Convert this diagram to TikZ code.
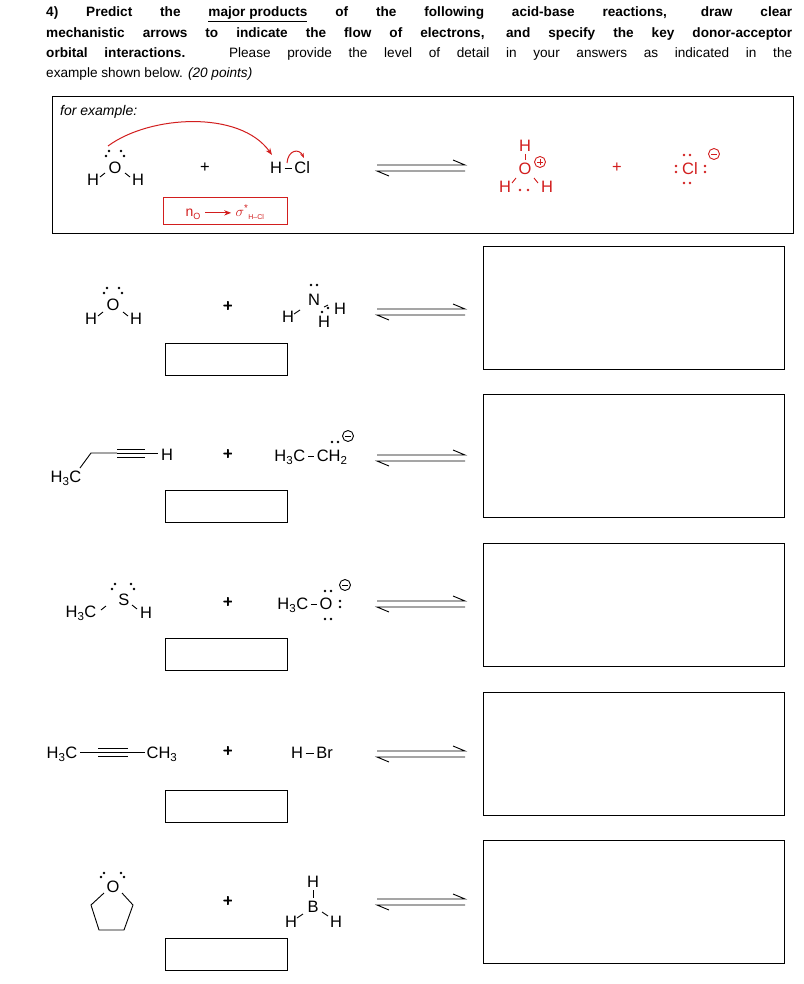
\documentclass[tikz,border=0pt]{standalone}
\usepackage{fontspec}
\setmainfont{Liberation Sans}
\usetikzlibrary{arrows.meta}
\definecolor{rd}{RGB}{210,30,30}
\tikzset{
  atm/.style={inner sep=0pt,font=\fontsize{16.5}{17}\selectfont},
  bx/.style={draw,line width=0.9pt},
  bd/.style={line width=0.9pt},
  head/.style={inner sep=0pt,anchor=west,font=\fontsize{13.6}{15}\selectfont}
}
\newcommand{\dt}[2]{\fill (#1,#2) circle (1.3pt);}
\newcommand{\eqarr}[2]{%
  \draw[line width=0.9pt] (#1,#2-3) -- (#1+88,#2-3) -- (#1+76,#2-8);
  \draw[line width=0.9pt] (#1+88,#2+3) -- (#1,#2+3) -- (#1+12,#2+8);}
\begin{document}
\begin{tikzpicture}[x=1pt,y=-1pt]
\useasboundingbox[fill=white] (0,0) rectangle (803,984);
% heading
\node[head] (h1) at (46,14) {\makebox[746pt][s]{\textbf{4) Predict the \underline{major products} of the following acid-base reactions, draw clear}}};
\node[head] (h2) at (46,34) {\makebox[746pt][s]{\textbf{mechanistic arrows to indicate the flow of electrons, and specify the key donor-acceptor}}};
\node[head] (h3) at (46,54) {\makebox[746pt][s]{\textbf{orbital interactions.} Please provide the level of detail in your answers as indicated in the}};
\node[head] (h4) at (46,74) {example shown below. \textit{(20 points)}};
% example box
\draw[bx] (52,96) rectangle (793,233);
\node[head,font=\fontsize{14}{15}\selectfont\itshape] (fe) at (60,112) {for example:};
% water
\node[atm] (eo) at (115,168) {O};
\node[atm] (eh1) at (93,180) {H};
\node[atm] (eh2) at (138,180) {H};
\draw[bd] (100,177)--(105,173); \draw[bd] (125,173)--(130,177);
\dt{106}{156}\dt{109}{151}\dt{121}{151}\dt{124}{156}
\node[atm] (ep) at (205,168) {+};
\node[atm] (ehcl) at (290,168) {H\,\rule[0.28em]{7pt}{1.1pt}\,Cl};
\draw[rd,line width=1pt,-{Stealth[length=7pt]}] (108,146) .. controls (150,115) and (240,110) .. (272,155);
\draw[rd,line width=1pt,-{Stealth[length=5pt]}] (287,163) .. controls (288,150) and (299,148) .. (304,158);
\draw[rd,line width=1pt] (163,198) rectangle (287,225);
\node[atm,rd,font=\fontsize{14}{15}\selectfont] (eno) at (225,212) {n\textsubscript{\small O} \tikz[baseline=-4pt]\draw[line width=1pt,-{Stealth[length=7pt]}] (0,0)--(26pt,0); $\sigma$\textsuperscript{*}\textsubscript{\scriptsize H--Cl}};
\eqarr{377}{168}
% H3O+
\begin{scope}[rd]
\node[atm] (po) at (525,169) {O};
\node[atm] (poh) at (525,146) {H};
\node[atm] (ph1) at (505,187) {H};
\node[atm] (ph2) at (547,187) {H};
\draw[bd] (525,154)--(525,160); \draw[bd] (512,183)--(516,178); \draw[bd] (534,178)--(538,183);
\dt{520}{190}\dt{528}{190}
\draw[line width=0.9pt] (540,162) circle (5.5pt); \draw[line width=0.9pt] (537,162)--(543,162) (540,159)--(540,165);
\node[atm] (pp) at (617,168) {+};
\node[atm] (pcl) at (690,169) {Cl};
\dt{684}{155}\dt{690}{155}\dt{684}{183}\dt{690}{183}
\dt{676}{166}\dt{676}{172}\dt{705}{166}\dt{705}{172}
\draw[line width=0.9pt] (714,154) circle (5.5pt); \draw[line width=0.9pt] (711,154)--(717,154);
\end{scope}
% answer boxes
\foreach \y in {246,394,543,692,840} \draw[bx] (483,\y) rectangle (784,\y+123);
\foreach \y in {343,490,638,790,938} \draw[bx] (165,\y) rectangle (287,\y+32);
\foreach \y in {312,458,604,754,902} \eqarr{377}{\y}
\foreach \y in {307,455,603,752,902} \node[atm] at (228,\y) {+};
% row 1
\node[atm] (r1o) at (113,305) {O}; \node[atm] (r1h1) at (91,319) {H}; \node[atm] (r1h2) at (136,319) {H};
\draw[bd] (98,316)--(103,312); \draw[bd] (123,312)--(128,316);
\dt{104}{293}\dt{107}{288}\dt{119}{288}\dt{122}{293}
\node[atm] (r1n) at (314,300) {N}; \node[atm] (r1ha) at (288,317) {H}; \node[atm] (r1hb) at (340,309) {H}; \node[atm] (r1hc) at (324,322) {H};
\dt{311}{285}\dt{317}{285}
\draw[bd] (294,314)--(300,310); \draw[bd] (324,307)--(328,305); \dt{328}{308}\dt{322}{312}
% row 2
\node[atm] (r2c) at (66,478) {H\textsubscript{3}C};
\draw[bd] (80,468)--(91,453)--(117,453);
\draw[bd] (117,449)--(145,449) (117,453)--(145,453) (117,457)--(145,457);
\draw[bd] (145,453)--(158,453);
\node[atm] (r2h) at (167,455) {H};
\node[atm] (r2b) at (311,457) {H\textsubscript{3}C\,\rule[0.28em]{6pt}{0.9pt}\,CH\textsubscript{2}};
\dt{332}{442}\dt{338}{442}
\draw[line width=0.9pt] (348,436) circle (5.5pt); \draw[line width=0.9pt] (345,436)--(351,436);
% row 3
\node[atm] (r3c) at (81,613) {H\textsubscript{3}C}; \node[atm] (r3s) at (124,600) {S}; \node[atm] (r3h) at (146,613) {H};
\draw[bd] (101,610)--(106,606); \draw[bd] (132,605)--(137,609);
\dt{112}{589}\dt{115}{584}\dt{131}{584}\dt{134}{589}
\node[atm] (r3b) at (305,605) {H\textsubscript{3}C\,\rule[0.28em]{6pt}{0.9pt}\,O};
\dt{325}{591}\dt{331}{591}\dt{325}{619}\dt{331}{619}\dt{340}{601}\dt{340}{607}
\draw[line width=0.9pt] (345,585) circle (5.5pt); \draw[line width=0.9pt] (342,585)--(348,585);
% row 4
\node[atm] (r4a) at (62,754) {H\textsubscript{3}C};
\draw[bd] (80,752)--(98,752); \draw[bd] (98,748)--(128,748) (98,752)--(128,752) (98,756)--(128,756); \draw[bd] (128,752)--(145,752);
\node[atm] (r4b) at (162,754) {CH\textsubscript{3}};
\node[atm] (r4c) at (312,753) {H\,\rule[0.28em]{8pt}{0.9pt}\,Br};
% row 5
\node[atm] (r5o) at (113,887) {O};
\dt{101}{877}\dt{104}{873}\dt{121}{873}\dt{124}{877}
\draw[bd] (122,893)--(133,905)--(124,930)--(99,930)--(91,905)--(104,893);
\node[atm] (r5b) at (313,907) {B}; \node[atm] (r5ht) at (313,882) {H};
\node[atm] (r5hl) at (291,922) {H}; \node[atm] (r5hr) at (336,922) {H};
\draw[bd] (313,890)--(313,898); \draw[bd] (297,918)--(303,914); \draw[bd] (322,912)--(328,916);
\end{tikzpicture}
\end{document}
